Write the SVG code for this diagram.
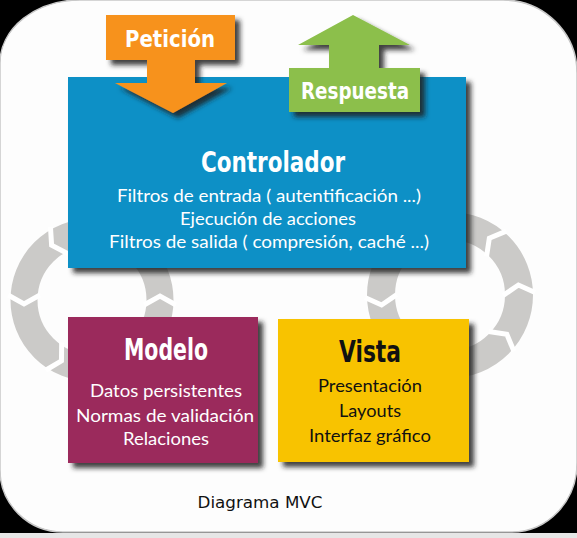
<svg xmlns="http://www.w3.org/2000/svg" width="577" height="538" viewBox="0 0 577 538">
<defs>
<style>
.title{font-family:"Liberation Sans Narrow","DejaVu Sans Condensed","Liberation Sans",sans-serif;font-weight:bold;text-anchor:middle}
.body{font-family:Lato,"Open Sans","Liberation Sans",sans-serif;text-anchor:middle;font-size:17px}
.w{fill:#ffffff}
.k{fill:#111111}
.ring{fill:none;stroke:#cbcac8}
.chev{fill:none;stroke:#ffffff;stroke-width:5}
</style>
<filter id="sh" x="-10%" y="-10%" width="130%" height="135%">
<feDropShadow dx="5" dy="5" stdDeviation="2.5" flood-color="#222" flood-opacity="0.85"/>
</filter>
</defs>
<rect x="0" y="0" width="577" height="538" fill="#000"/>
<rect x="0" y="533" width="577" height="5" fill="#e6e6e6"/>
<path d="M80,0 H503 A74,73 0 0 1 577,73 V463 A65,69 0 0 1 512,532 H63 A63,62 0 0 1 0,470 V63 A80,63 0 0 1 80,0 Z" fill="#fdfdfd" stroke="#c8c8c8" stroke-width="1.5"/>

<g id="connectors">
<g id="cycle-left">
<circle class="ring" cx="92" cy="300" r="68" stroke-width="27"/>
<path class="chev" transform="translate(92 300) rotate(0) translate(68 0)" d="M-16,5 L0,-4 L16,5"/>
<path class="chev" transform="translate(92 300) rotate(60) translate(68 0)" d="M-16,5 L0,-4 L16,5"/>
<path class="chev" transform="translate(92 300) rotate(120) translate(68 0)" d="M-16,5 L0,-4 L16,5"/>
<path class="chev" transform="translate(92 300) rotate(180) translate(68 0)" d="M-16,5 L0,-4 L16,5"/>
<path class="chev" transform="translate(92 300) rotate(237) translate(68 0)" d="M-16,5 L0,-4 L16,5"/>
<path class="chev" transform="translate(92 300) rotate(300) translate(68 0)" d="M-16,5 L0,-4 L16,5"/>
</g>
<g id="cycle-right">
<circle class="ring" cx="450" cy="295" r="69" stroke-width="28"/>
<path class="chev" transform="translate(450 295) rotate(-5) translate(69 0)" d="M-16,5 L0,-4 L16,5"/>
<path class="chev" transform="translate(450 295) rotate(38) translate(69 0)" d="M-16,5 L0,-4 L16,5"/>
<path class="chev" transform="translate(450 295) rotate(100) translate(69 0)" d="M-16,5 L0,-4 L16,5"/>
<path class="chev" transform="translate(450 295) rotate(175) translate(69 0)" d="M-16,5 L0,-4 L16,5"/>
<path class="chev" transform="translate(450 295) rotate(250) translate(69 0)" d="M-16,5 L0,-4 L16,5"/>
<path class="chev" transform="translate(450 295) rotate(308) translate(69 0)" d="M-16,5 L0,-4 L16,5"/>
</g>
</g>

<g id="controlador">
<rect x="68" y="77" width="398" height="191" fill="#1190c6" filter="url(#sh)"/>
<text class="title w" x="273" y="172" font-size="29" textLength="144" lengthAdjust="spacingAndGlyphs">Controlador</text>
<text class="body w" x="269" y="202" textLength="304" lengthAdjust="spacingAndGlyphs">Filtros de entrada ( autentificación ...)</text>
<text class="body w" x="268" y="225" textLength="176" lengthAdjust="spacingAndGlyphs">Ejecución de acciones</text>
<text class="body w" x="269" y="248" textLength="320" lengthAdjust="spacingAndGlyphs">Filtros de salida ( compresión, caché ...)</text>
</g>

<g id="peticion">
<path d="M106,15 H235 V60 H195 V83 H227 L173,113 L115,83 H147 V60 H106 Z" fill="#f7921e" filter="url(#sh)"/>
<text class="title w" x="170" y="47" font-size="23" textLength="90" lengthAdjust="spacingAndGlyphs">Petición</text>
</g>

<g id="respuesta">
<path d="M353,15 L410,45 H379 V68 H420 V112 H289 V68 H329 V45 H298 Z" fill="#8cbf4b" filter="url(#sh)"/>
<text class="title w" x="355" y="99" font-size="23" textLength="108" lengthAdjust="spacingAndGlyphs">Respuesta</text>
</g>

<g id="modelo">
<rect x="68" y="317" width="190" height="146" fill="#9b2b5c" filter="url(#sh)"/>
<text class="title w" x="166" y="360" font-size="31" textLength="84" lengthAdjust="spacingAndGlyphs">Modelo</text>
<text class="body w" x="166" y="397" textLength="152" lengthAdjust="spacingAndGlyphs">Datos persistentes</text>
<text class="body w" x="165" y="422" textLength="178" lengthAdjust="spacingAndGlyphs">Normas de validación</text>
<text class="body w" x="166" y="445" textLength="86" lengthAdjust="spacingAndGlyphs">Relaciones</text>
</g>

<g id="vista">
<rect x="278" y="319" width="191" height="143" fill="#f8c300" filter="url(#sh)"/>
<text class="title k" x="370" y="362" font-size="31" textLength="62" lengthAdjust="spacingAndGlyphs">Vista</text>
<text class="body k" x="370" y="392" textLength="104" lengthAdjust="spacingAndGlyphs">Presentación</text>
<text class="body k" x="370" y="417" textLength="62" lengthAdjust="spacingAndGlyphs">Layouts</text>
<text class="body k" x="370" y="442" textLength="122" lengthAdjust="spacingAndGlyphs">Interfaz gráfico</text>
</g>

<text x="260" y="508" font-family="'DejaVu Sans','Liberation Sans',sans-serif" font-size="16" text-anchor="middle" fill="#111" textLength="125" lengthAdjust="spacingAndGlyphs">Diagrama MVC</text>
</svg>
